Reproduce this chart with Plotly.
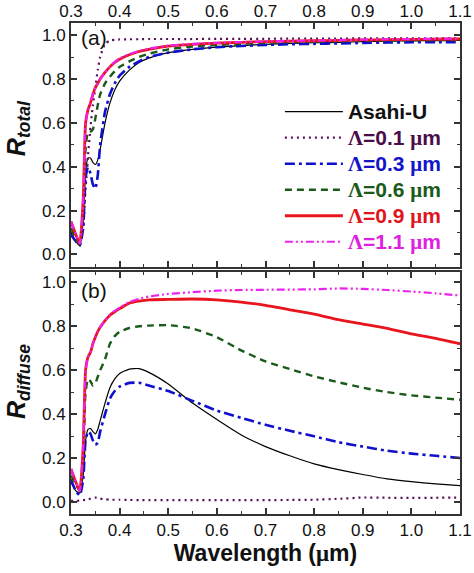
import plotly.graph_objects as go

wl = [0.30, 0.31, 0.318, 0.325, 0.33, 0.335, 0.34, 0.345, 0.35, 0.355, 0.36, 0.37, 0.38, 0.39,
      0.40, 0.42, 0.44, 0.46, 0.50, 0.55, 0.60, 0.65, 0.70, 0.75, 0.80, 0.85, 0.90, 0.95, 1.00, 1.05, 1.10]

# (a) total reflectance
tot_asahi = [0.10, 0.06, 0.04, 0.15, 0.38, 0.44, 0.44, 0.42, 0.41, 0.43, 0.48, 0.60, 0.69, 0.75,
             0.79, 0.84, 0.875, 0.895, 0.92, 0.935, 0.945, 0.952, 0.958, 0.962, 0.965, 0.967, 0.97, 0.972, 0.974, 0.975, 0.976]
tot_01 = [0.12, 0.07, 0.05, 0.12, 0.30, 0.45, 0.58, 0.68, 0.76, 0.84, 0.90, 0.96, 0.975, 0.978,
          0.98, 0.981, 0.981, 0.982, 0.982, 0.982, 0.983, 0.983, 0.983, 0.984, 0.984, 0.984, 0.985, 0.985, 0.985, 0.985, 0.985]
tot_03 = [0.09, 0.06, 0.04, 0.12, 0.35, 0.40, 0.37, 0.32, 0.30, 0.36, 0.50, 0.65, 0.73, 0.78,
          0.815, 0.855, 0.88, 0.90, 0.92, 0.935, 0.945, 0.95, 0.955, 0.958, 0.96, 0.962, 0.964, 0.966, 0.967, 0.968, 0.968]
tot_06 = [0.12, 0.07, 0.05, 0.20, 0.48, 0.56, 0.56, 0.57, 0.62, 0.68, 0.73, 0.78, 0.81, 0.835,
          0.855, 0.88, 0.90, 0.915, 0.935, 0.948, 0.955, 0.96, 0.965, 0.968, 0.97, 0.972, 0.974, 0.975, 0.976, 0.977, 0.978]
tot_09 = [0.15, 0.09, 0.05, 0.25, 0.60, 0.66, 0.69, 0.73, 0.76, 0.78, 0.80, 0.83, 0.855, 0.875,
          0.89, 0.91, 0.925, 0.935, 0.95, 0.958, 0.963, 0.967, 0.97, 0.972, 0.974, 0.976, 0.978, 0.979, 0.98, 0.981, 0.982]
tot_11 = [0.15, 0.09, 0.05, 0.25, 0.60, 0.66, 0.69, 0.73, 0.76, 0.78, 0.80, 0.83, 0.857, 0.878,
          0.893, 0.913, 0.928, 0.938, 0.952, 0.96, 0.965, 0.968, 0.971, 0.973, 0.975, 0.977, 0.979, 0.981, 0.982, 0.983, 0.984]

# (b) diffuse reflectance
dif_asahi = [0.09, 0.05, 0.04, 0.12, 0.28, 0.33, 0.335, 0.32, 0.31, 0.33, 0.37, 0.45, 0.52, 0.56,
             0.585, 0.605, 0.607, 0.59, 0.537, 0.45, 0.375, 0.305, 0.252, 0.21, 0.173, 0.147, 0.125, 0.105, 0.092, 0.082, 0.074]
dif_01 = [0.005, 0.005, 0.006, 0.008, 0.01, 0.012, 0.015, 0.018, 0.02, 0.018, 0.015, 0.012, 0.01, 0.01,
          0.01, 0.009, 0.008, 0.008, 0.008, 0.008, 0.008, 0.008, 0.008, 0.009, 0.01, 0.014, 0.02, 0.019, 0.018, 0.019, 0.02]
dif_03 = [0.10, 0.05, 0.03, 0.10, 0.28, 0.32, 0.31, 0.28, 0.26, 0.27, 0.32, 0.40, 0.47, 0.505,
          0.525, 0.542, 0.543, 0.53, 0.505, 0.46, 0.416, 0.383, 0.351, 0.324, 0.299, 0.272, 0.252, 0.233, 0.22, 0.21, 0.20]
dif_06 = [0.12, 0.08, 0.05, 0.20, 0.50, 0.56, 0.55, 0.53, 0.54, 0.57, 0.60, 0.65, 0.72, 0.755,
          0.775, 0.792, 0.80, 0.803, 0.805, 0.79, 0.75, 0.69, 0.64, 0.605, 0.572, 0.545, 0.52, 0.50, 0.485, 0.475, 0.465]
dif_09 = [0.15, 0.09, 0.05, 0.25, 0.60, 0.66, 0.68, 0.72, 0.75, 0.775, 0.795, 0.825, 0.85, 0.866,
          0.88, 0.905, 0.914, 0.92, 0.922, 0.924, 0.92, 0.91, 0.895, 0.875, 0.855, 0.83, 0.81, 0.79, 0.765, 0.745, 0.72]
dif_11 = [0.15, 0.09, 0.05, 0.25, 0.60, 0.66, 0.68, 0.72, 0.75, 0.775, 0.795, 0.827, 0.853, 0.87,
          0.885, 0.91, 0.925, 0.935, 0.947, 0.955, 0.962, 0.965, 0.966, 0.967, 0.968, 0.972, 0.97, 0.965, 0.958, 0.95, 0.94]

x_ticks = [0.3, 0.4, 0.5, 0.6, 0.7, 0.8, 0.9, 1.0, 1.1]
x_ticklabels = ["0.3", "0.4", "0.5", "0.6", "0.7", "0.8", "0.9", "1.0", "1.1"]
y_ticks = [0.0, 0.2, 0.4, 0.6, 0.8, 1.0]
y_ticklabels = ["0.0", "0.2", "0.4", "0.6", "0.8", "1.0"]

SYM = "Liberation Serif, Times New Roman, serif"
LEG_PX = 21

def lam_name(v, color):
    return (f'<b><span style="color:{color};font-size:{LEG_PX}px"><span style="font-family:{SYM}">Λ</span>'
            f'={v} <span style="font-family:{SYM}">μ</span>m</span></b>')

series = [
    ("asahi", f'<b><span style="font-size:{LEG_PX}px">Asahi-U</span></b>', "#000000", 1.2, "solid", tot_asahi, dif_asahi),
    ("l01", lam_name("0.1", "#4a0d4a"), "#5a0f5a", 2.2, "2px,4px", tot_01, dif_01),
    ("l03", lam_name("0.3", "#1414c8"), "#1010cc", 2.6, "10px,4px,3px,4px", tot_03, dif_03),
    ("l06", lam_name("0.6", "#1a5a1a"), "#1a5a1a", 2.4, "7px,5px", tot_06, dif_06),
    ("l09", lam_name("0.9", "#e0141e"), "#e8141e", 2.8, "solid", tot_09, dif_09),
    ("l11", lam_name("1.1", "#e020e0"), "#ee22ee", 2.2, "8px,3px,2px,3px,2px,3px", tot_11, dif_11),
]

fig = go.Figure()
for key, name, color, w, dash, ytot, ydif in series:
    fig.add_trace(go.Scatter(x=wl, y=ytot, mode="lines", name=name, legendgroup=key,
                             line=dict(color=color, width=w, dash=dash, shape="spline", smoothing=0.5),
                             xaxis="x", yaxis="y"))
for key, name, color, w, dash, ytot, ydif in series:
    fig.add_trace(go.Scatter(x=wl, y=ydif, mode="lines", name=name, legendgroup=key, showlegend=False,
                             line=dict(color=color, width=w, dash=dash, shape="spline", smoothing=0.5),
                             xaxis="x2", yaxis="y2"))

FONT = "Arial, Liberation Sans, sans-serif"
axcol = "#333333"
common_x = dict(range=[0.3, 1.1], tickvals=x_ticks, ticktext=x_ticklabels, ticks="inside", ticklen=6,
                tickwidth=1.5, tickcolor=axcol, showline=True, linecolor=axcol, linewidth=2,
                mirror="ticks", showgrid=False, zeroline=False, automargin=False,
                minor=dict(ticks="inside", ticklen=3, dtick=0.05, tick0=0.3, tickcolor=axcol, tickwidth=1.2, showgrid=False),
                tickfont=dict(size=17, color="#111111", family=FONT))
common_y = dict(range=[-0.055, 1.055], tickvals=y_ticks, ticktext=y_ticklabels, ticks="inside", ticklen=6,
                tickwidth=1.5, tickcolor=axcol, showline=True, linecolor=axcol, linewidth=2,
                mirror="ticks", showgrid=False, zeroline=False, automargin=False,
                minor=dict(ticks="inside", ticklen=3, dtick=0.1, tick0=0.0, tickcolor=axcol, tickwidth=1.2, showgrid=False),
                tickfont=dict(size=17, color="#111111", family=FONT))

fig.update_layout(
    width=474, height=573,
    margin=dict(l=71, r=14, t=23, b=59),
    paper_bgcolor="white", plot_bgcolor="white",
    font=dict(family=FONT, color="#111111"),
    xaxis=dict(common_x, domain=[0, 1], anchor="y", side="top", ticklabelstandoff=-3),
    yaxis=dict(common_y, domain=[0.504, 1.0], anchor="x"),
    xaxis2=dict(common_x, domain=[0, 1], anchor="y2", side="bottom",
                title=dict(text="<b>Wavelength (<span style=\"font-family:" + SYM + "\">μ</span>m)</b>",
                           font=dict(size=23, family=FONT, color="#111111"), standoff=4)),
    yaxis2=dict(common_y, range=[-0.055, 1.045], domain=[0.0, 0.492], anchor="x2"),
    legend=dict(x=0.537, y=0.856, xanchor="left", yanchor="top", bgcolor="rgba(0,0,0,0)",
                font=dict(size=17.7, family=FONT), itemwidth=58, tracegroupgap=0),
    showlegend=True,
)

fig.add_annotation(text="(a)", xref="paper", yref="paper", x=0.02, y=0.9695, xanchor="left", yanchor="middle",
                   showarrow=False, font=dict(size=21, family=FONT, color="#111111"))
fig.add_annotation(text="(b)", xref="paper", yref="paper", x=0.02, y=0.456, xanchor="left", yanchor="middle",
                   showarrow=False, font=dict(size=21, family=FONT, color="#111111"))
fig.add_annotation(text="<b><i>R<sub>total</sub></i></b>", xref="paper", yref="paper",
                   x=-0.136, y=0.786, textangle=-90, showarrow=False, xanchor="center", yanchor="middle",
                   font=dict(size=25, family=FONT, color="#111111"))
fig.add_annotation(text="<b><i>R<sub>diffuse</sub></i></b>", xref="paper", yref="paper",
                   x=-0.136, y=0.269, textangle=-90, showarrow=False, xanchor="center", yanchor="middle",
                   font=dict(size=25, family=FONT, color="#111111"))

fig.write_html("out.html")
